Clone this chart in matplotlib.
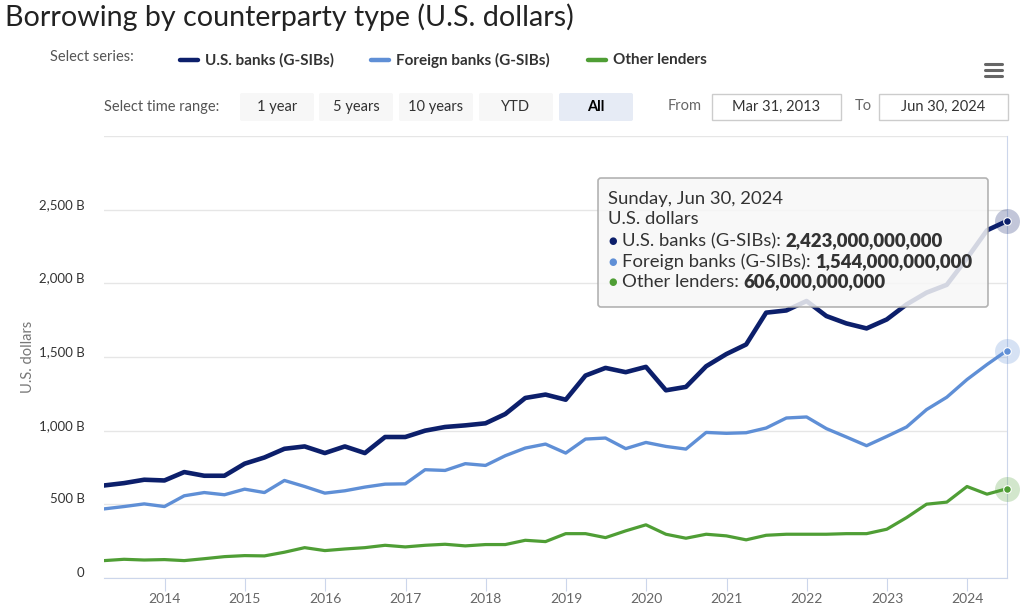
import matplotlib
matplotlib.use("Agg")
import matplotlib.pyplot as plt
import matplotlib.dates as mdates
from matplotlib.patches import FancyBboxPatch, Rectangle
from matplotlib.transforms import Affine2D, ScaledTranslation
import pandas as pd

# quarterly borrowing, billions of U.S. dollars (Mar 2013 - Jun 2024)
quarters = pd.date_range("2013-03-31", "2024-06-30", freq="QE")
us_banks = [628, 644, 667, 662, 719, 694, 694, 776, 818, 877, 893, 848, 893, 848, 957, 957,
            1000, 1025, 1036, 1050, 1113, 1222, 1245, 1210, 1374, 1426, 1397, 1433, 1274, 1297,
            1437, 1520, 1585, 1801, 1816, 1880, 1778, 1728, 1694, 1755, 1857, 1937, 1990, 2170,
            2360, 2423]
foreign_banks = [469, 485, 503, 485, 558, 580, 565, 603, 580, 662, 621, 576, 592, 617, 637, 639,
                 735, 730, 776, 764, 830, 882, 909, 848, 943, 950, 878, 920, 893, 875, 988, 982,
                 986, 1018, 1086, 1093, 1014, 957, 898, 961, 1025, 1143, 1227, 1347, 1449, 1544]
other_lenders = [118, 127, 122, 125, 118, 131, 145, 152, 150, 175, 206, 186, 197, 206, 222, 211,
                 222, 229, 218, 227, 227, 256, 247, 301, 301, 274, 320, 361, 297, 270, 297, 286,
                 259, 290, 297, 297, 297, 301, 301, 331, 410, 501, 515, 621, 569, 606]

series_names = ["U.S. banks (G-SIBs)", "Foreign banks (G-SIBs)", "Other lenders"]
series_colors = ["#0c1f6b", "#5f8fd6", "#4f9e35"]
series_widths = [3.3, 2.4, 2.3]
tooltip_values = ["2,423,000,000,000", "1,544,000,000,000", "606,000,000,000"]
range_buttons = ["1 year", "5 years", "10 years", "YTD", "All"]

plt.rcParams['font.family'] = ['Lato', 'DejaVu Sans']

W, H = 1024, 607
fig = plt.figure(figsize=(W / 100, H / 100), dpi=100)
px = Affine2D().scale(1 / W, -1 / H).translate(0, 1) + fig.transFigure

ax = fig.add_axes([104 / W, 1 - 578 / H, (1007 - 104) / W, (578 - 136) / H])
for name, vals, c, lw in zip(series_names, [us_banks, foreign_banks, other_lenders],
                             series_colors, series_widths):
    ax.plot(quarters, vals, color=c, lw=lw, solid_joinstyle="round", zorder=3)
    ax.plot(quarters[-1], vals[-1], "o", color=c, ms=18, alpha=0.25, mec="none",
            clip_on=False, zorder=4)
    ax.plot(quarters[-1], vals[-1], "o", color=c, ms=5.5, mec="white", mew=0.8,
            clip_on=False, zorder=5)

ax.set_xlim(quarters[0], quarters[-1])
ax.set_ylim(0, 3000)
ax.set_yticks(range(0, 3001, 500))
ax.set_yticklabels(["0"] + [f"{v:,} B" for v in range(500, 2501, 500)] + [""])
ax.grid(axis="y", color="#e6e6e6", lw=1)
ax.set_axisbelow(True)
ax.xaxis.set_major_locator(mdates.YearLocator())
ax.xaxis.set_major_formatter(mdates.DateFormatter("%Y"))
for s in ["top", "left"]:
    ax.spines[s].set_visible(False)
ax.spines["bottom"].set_color("#ccd6eb")
ax.spines["right"].set_color("#ccd6eb")
ax.tick_params(axis="y", length=0, pad=14, labelsize=9.5, labelcolor="#333333")
ax.tick_params(axis="x", length=9, color="#ccd6eb", labelsize=10, labelcolor="#666666", pad=2)
up = ScaledTranslation(0, 6 / 100, fig.dpi_scale_trans)
for lbl in ax.get_yticklabels():
    lbl.set_transform(lbl.get_transform() + up)
ax.set_ylabel("U.S. dollars", color="#777777", fontsize=10.5, labelpad=3)

# title and controls
fig.text(5, 17, "Borrowing by counterparty type (U.S. dollars)", transform=px,
         fontsize=20.6, color="#222222", va="center")
fig.text(50, 57, "Select series:", transform=px, fontsize=10.5, color="#555555", va="center")
leg_x = [180, 371, 588]
for x0, name, c in zip(leg_x, series_names, series_colors):
    fig.add_artist(plt.Line2D([x0, x0 + 18], [60, 60], transform=px, color=c, lw=3.2,
                              solid_capstyle="round"))
    fig.text(x0 + 25, 60, name, transform=px, fontsize=11, fontweight="bold",
             color="#333333", va="center")

fig.text(104, 107, "Select time range:", transform=px, fontsize=10.5, color="#555555",
         va="center")
btn_x = [240, 319, 399, 479, 559]
for x0, lab in zip(btn_x, range_buttons):
    active = lab == "All"
    fig.add_artist(FancyBboxPatch((x0, 93), 74, 28, transform=px,
                                  boxstyle="round,pad=0,rounding_size=2",
                                  fc="#e6ebf5" if active else "#f7f7f7", ec="none"))
    fig.text(x0 + 37, 107, lab, transform=px, fontsize=10.5, ha="center", va="center",
             color="#000000" if active else "#333333",
             fontweight="bold" if active else "normal")

fig.text(668, 106, "From", transform=px, fontsize=10.5, color="#666666", va="center")
fig.text(855, 106, "To", transform=px, fontsize=10.5, color="#666666", va="center")
for x0, lab in [(712, "Mar 31, 2013"), (879, "Jun 30, 2024")]:
    fig.add_artist(Rectangle((x0, 94), 129, 26, transform=px, fc="white", ec="#cccccc", lw=1))
    fig.text(x0 + 64, 107, lab, transform=px, fontsize=10.5, ha="center", va="center",
             color="#333333")

for y in [64, 70, 76]:
    fig.add_artist(plt.Line2D([985, 1002], [y, y], transform=px, color="#666666", lw=2.2,
                              solid_capstyle="round"))

# tooltip
fig.add_artist(FancyBboxPatch((598, 178), 390, 129, transform=px,
                              boxstyle="round,pad=0,rounding_size=3", fc="#f7f7f7",
                              ec="#a6a6a6", lw=1.2, alpha=0.85, zorder=10))
fig.text(608, 199, "Sunday, Jun 30, 2024", transform=px, fontsize=13.3, color="#333333",
         va="center", zorder=11)
fig.text(608, 219, "U.S. dollars", transform=px, fontsize=13.3, color="#333333",
         va="center", zorder=11)
renderer = fig.canvas.get_renderer()
for i, (name, c, v) in enumerate(zip(series_names, series_colors, tooltip_values)):
    y = 241 + 20.5 * i
    fig.text(608, y, "●", transform=px, fontsize=7, color=c, va="center", zorder=11,
             family="DejaVu Sans")
    t = fig.text(622, y, name + ": ", transform=px, fontsize=13.3, color="#333333",
                 va="center", zorder=11)
    bb = t.get_window_extent(renderer)
    fig.text(bb.x1, fig.bbox.height - (y / H) * fig.bbox.height, v, transform=None,
             fontsize=13.3, fontweight="heavy", color="#333333", va="center", zorder=11)

fig.savefig("out.png", dpi=100)
